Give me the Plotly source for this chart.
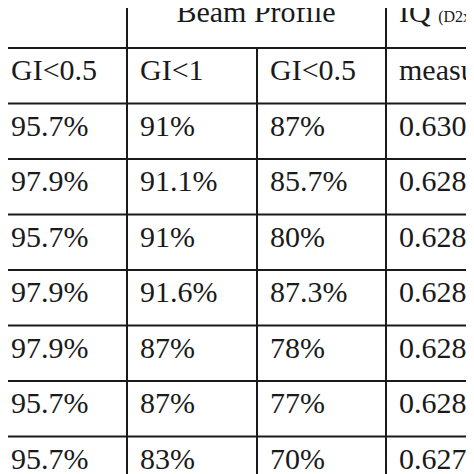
import plotly.graph_objects as go

# table content
col1 = ["95.7%", "97.9%", "95.7%", "97.9%", "97.9%", "95.7%", "95.7%"]
col2 = ["91%", "91.1%", "91%", "91.6%", "87%", "87%", "83%"]
col3 = ["87%", "85.7%", "80%", "87.3%", "78%", "77%", "70%"]
col4 = ["0.6302", "0.6284", "0.6284", "0.628", "0.6284", "0.6284", "0.627"]
sub_headers = ["GI<0.5", "GI<1", "GI<0.5", "measured"]

col_x = [11, 140, 270, 399]
vlines = [127, 257, 386]
row_h = 55.5
row0 = 48
font = "Liberation Serif, Times New Roman, serif"
ink = "#1a1a1a"
off = 8  # page body margin

fig = go.Figure()

xs, ys, ts = [], [], []
for j, h in enumerate(sub_headers):
    xs.append(col_x[j]); ys.append(row0 + row_h * 0.5 - 3); ts.append(h)
for i in range(len(col1)):
    yc = row0 + row_h * (i + 1.5) - 3
    for j, col in enumerate([col1, col2, col3, col4]):
        xs.append(col_x[j]); ys.append(yc); ts.append(col[i])
fig.add_trace(go.Scatter(x=xs, y=ys, text=ts, mode="text", textposition="middle right",
                         textfont=dict(family=font, size=30, color=ink),
                         cliponaxis=True, hoverinfo="skip"))
fig.add_trace(go.Scatter(x=[256, 399], y=[14, 14], text=["Beam Profile", "IQ <span style='font-size:16px'>(D2x)</span>"],
                         mode="text", textposition=["middle center", "middle right"],
                         textfont=dict(family=font, size=30, color=ink),
                         cliponaxis=True, hoverinfo="skip"))

line = dict(color=ink, width=2)
for k in range(8):
    y = row0 + row_h * k
    fig.add_shape(type="line", x0=0, x1=490, y0=y, y1=y, line=line)
fig.add_shape(type="line", x0=vlines[0], x1=vlines[0], y0=0, y1=490, line=line)
fig.add_shape(type="line", x0=vlines[1], x1=vlines[1], y0=row0, y1=490, line=line)
fig.add_shape(type="line", x0=vlines[2], x1=vlines[2], y0=0, y1=490, line=line)

fig.update_layout(width=474, height=474, margin=dict(l=0, r=0, t=0, b=0),
                  paper_bgcolor="white", plot_bgcolor="white", showlegend=False,
                  xaxis=dict(range=[off, 474 + off], visible=False, fixedrange=True),
                  yaxis=dict(range=[474 + off, off], visible=False, fixedrange=True))
fig.write_html("out.html")
